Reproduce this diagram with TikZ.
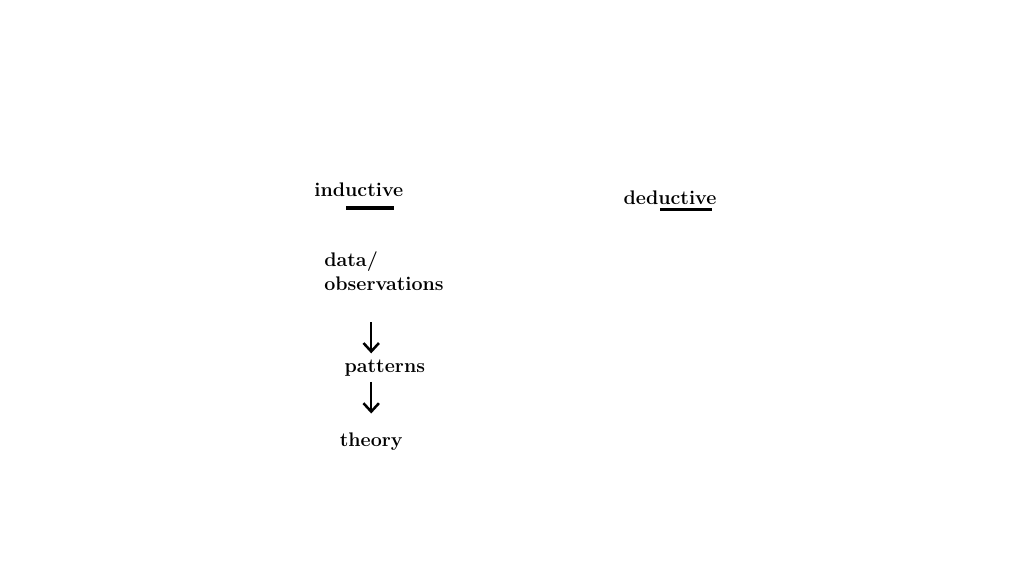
\documentclass[tikz,border=0pt]{standalone}
\usepackage{tikz}
\usetikzlibrary{positioning,calc,arrows.meta}

\tikzset{
    word/.style={inner sep=1pt, font=\fontsize{14}{17}\selectfont\bfseries},
    flow/.style={line width=1.8pt, -{Straight Barb[length=6pt,width=11pt,line width=1.8pt]}},
    underbar/.style={line width=2.2pt}
}

\begin{document}
\begin{tikzpicture}
    \useasboundingbox (0,0) rectangle (25.6,14.4);

    % inductive
    \node [word] (ind) at (8.97,9.65) {inductive};
    \draw [underbar] (8.65,9.2) -- (9.85,9.2);
    \node [word, align=left] (data) at (9.6,7.62) {data/\\observations};
    \node [word] (pat) at (9.62,5.2) {patterns};
    \node [word] (thy) at (9.28,3.35) {theory};
    \draw [flow] ($(data.south -| thy)+(0,-0.75)$) -- ($(pat.north -| thy)+(0,0.12)$);
    \draw [flow] ($(pat.south -| thy)+(0,-0.1)$) -- ($(thy.north)+(0,0.45)$);

    % deductive
    \node [word] (ded) at (16.75,9.45) {deductive};
    \draw [underbar] (16.5,9.17) -- (17.8,9.17);
\end{tikzpicture}
\end{document}
